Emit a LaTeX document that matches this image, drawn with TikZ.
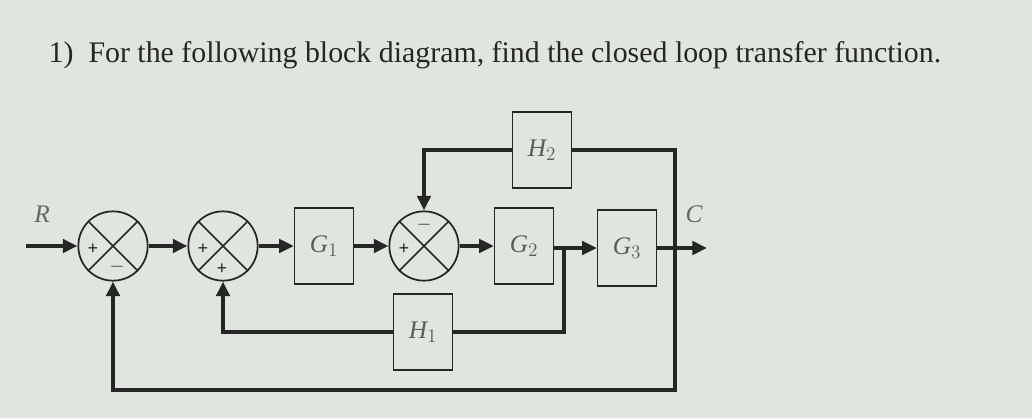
\documentclass[tikz,border=0pt]{standalone}
\usepackage{fontspec}
\setmainfont{Liberation Serif}
\usetikzlibrary{arrows.meta}
\definecolor{bg}{HTML}{E2E4E1}
\definecolor{ink}{HTML}{262626}
\begin{document}
\begin{tikzpicture}[x=0.75pt,y=-0.75pt,
  blk/.style={draw=ink,line width=1.2pt,minimum width=44pt,minimum height=57pt,inner sep=0pt,font=\fontsize{19}{19}\selectfont\itshape,text=ink!75},
  sj/.style={circle,draw=ink,line width=1.3pt,minimum size=52pt,inner sep=0pt},
  sig/.style={draw=ink,line width=3pt,-{Triangle[length=11pt,width=10pt]}},
  wire/.style={draw=ink,line width=3pt},
  sgn/.style={font=\fontsize{14}{14}\selectfont\bfseries,text=ink}]
\fill[bg] (0,0) rectangle (1032,418);
\useasboundingbox (0,0) rectangle (1032,418);
\node[anchor=west,text=ink,font=\fontsize{22.4}{26}\selectfont] (title) at (44,55) {1)\ \ For the following block diagram, find the closed loop transfer function.};
\node[sj] (s1) at (113,246) {};
\node[sj] (s2) at (223,246) {};
\node[sj] (s3) at (424,246) {};
\foreach \s in {s1,s2,s3}{
  \draw[ink,line width=1.1pt] (\s.45) -- (\s.225) (\s.135) -- (\s.315);}
\node[sgn] at (93,249) {+};
\node[sgn] at (117,267) {$-$};
\node[sgn] at (203,249) {+};
\node[sgn] at (222,269) {+};
\node[sgn] at (404,249) {+};
\node[sgn] at (424,225) {$-$};
\node[blk] (g1) at (324,246) {G$_1$};
\node[blk] (g2) at (524,246) {G$_2$};
\node[blk] (g3) at (627,248) {G$_3$};
\node[blk] (h2) at (542,150) {H$_2$};
\node[blk] (h1) at (423,332) {H$_1$};
\node[font=\fontsize{19}{19}\selectfont\itshape,text=ink!70] (rl) at (42,214) {R};
\node[font=\fontsize{19}{19}\selectfont\itshape,text=ink!70] (cl) at (694,214) {C};
\coordinate (rin) at (26,246);
\coordinate (cout) at (707,248);
\coordinate (br) at (564,248);
\coordinate (tap) at (675,248);
\draw[sig] (rin) -- (s1.west);
\draw[sig] (s1.east) -- (s2.west);
\draw[sig] (s2.east) -- (g1.west);
\draw[sig] (g1.east) -- (s3.west);
\draw[sig] (s3.east) -- (g2.west);
\draw[sig] (g2.east |- br) -- (g3.west |- br);
\draw[sig] (g3.east |- tap) -- (cout);
\draw[wire] (tap) -- (675,150) -- (h2.east);
\draw[sig] (h2.west) -- (424,150) -- (s3.north);
\draw[wire] (br) -- (564,332) -- (h1.east);
\draw[sig] (h1.west) -- (223,332) -- (s2.south);
\draw[sig] (tap) -- (675,390) -- (113,390) -- (s1.south);
\end{tikzpicture}
\end{document}
